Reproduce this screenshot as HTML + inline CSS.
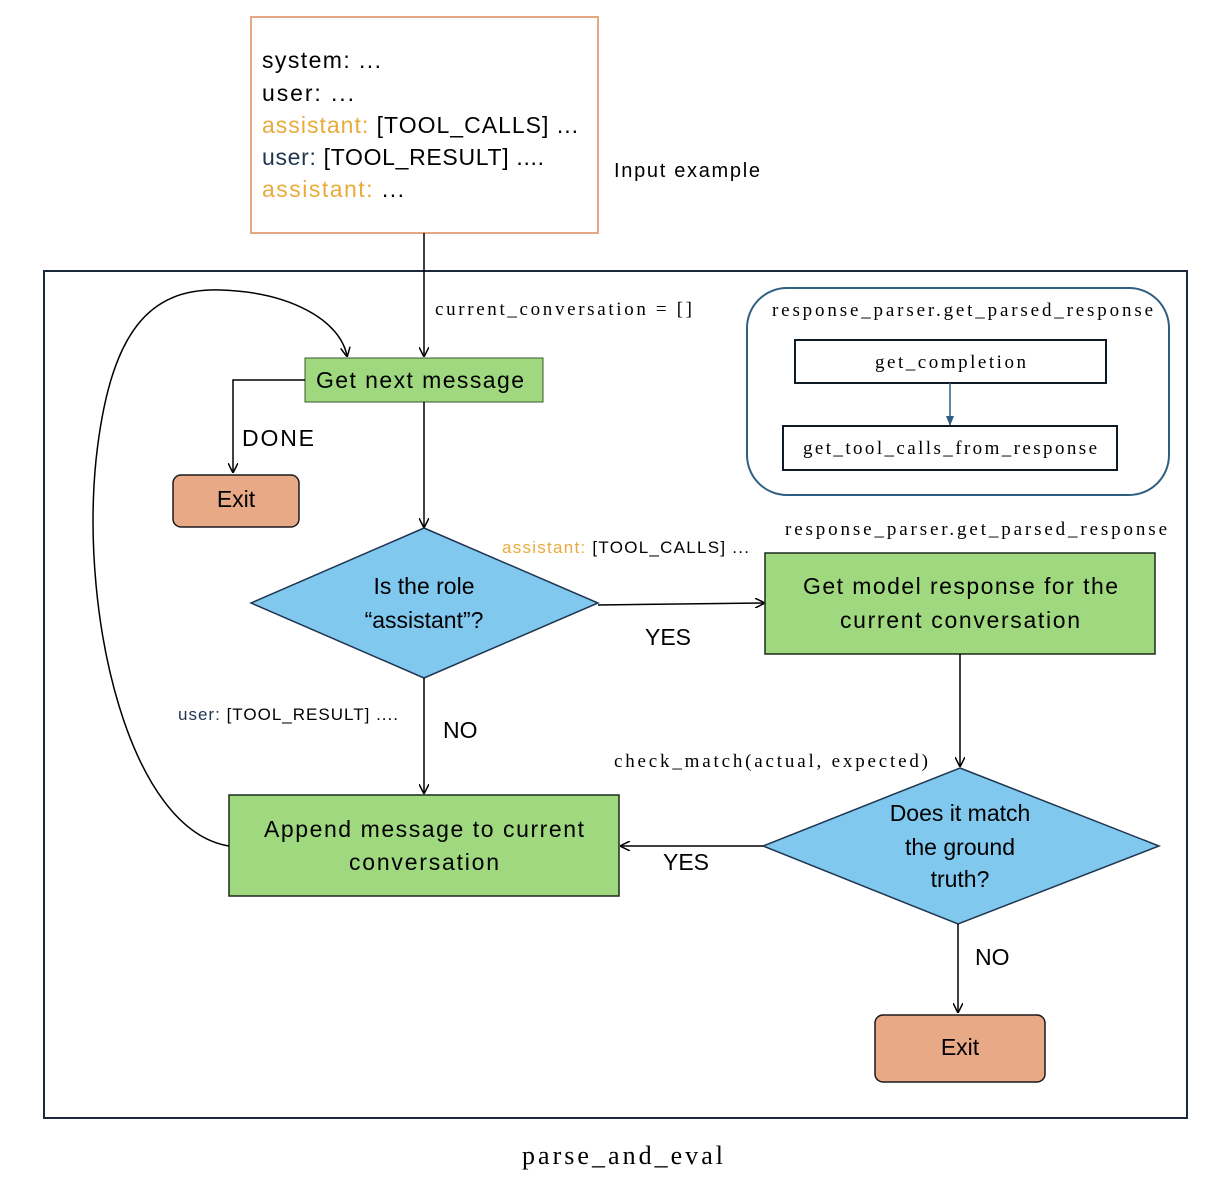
<!DOCTYPE html>
<html><head><meta charset="utf-8"><style>
html,body{margin:0;padding:0;background:#fff;}
svg{display:block;}
.s{font-family:"Liberation Sans",sans-serif;}
.r{font-family:"Liberation Serif",serif;}
</style></head><body>
<svg width="1220" height="1190" viewBox="0 0 1220 1190" xmlns="http://www.w3.org/2000/svg">
<defs>
<marker id="a" markerWidth="10" markerHeight="10" refX="9" refY="5" orient="auto" markerUnits="userSpaceOnUse"><path d="M0,0 L10,5 L0,10" fill="none" stroke="#000" stroke-width="1.5"/></marker>
<marker id="b" markerWidth="10" markerHeight="10" refX="9" refY="5" orient="auto" markerUnits="userSpaceOnUse"><path d="M0,1 L10,5 L0,9 z" fill="#2f5f80"/></marker>
</defs>
<rect x="251" y="17" width="347" height="216" fill="#fff" stroke="#e6a882" stroke-width="2"/>
<g class="s" font-size="23" fill="#000">
<text x="262" y="68" textLength="119">system: ...</text>
<text x="262" y="101" textLength="92">user:  ...</text>
<text x="262" y="133" textLength="316"><tspan fill="#e8ab3c">assistant:</tspan> [TOOL_CALLS] ...</text>
<text x="262" y="165" textLength="282"><tspan fill="#1f3550">user:</tspan> [TOOL_RESULT] ....</text>
<text x="262" y="197" textLength="142"><tspan fill="#e8ab3c">assistant:</tspan> ...</text>
</g>
<text class="s" x="614" y="177" font-size="20" textLength="146">Input example</text>
<rect x="44" y="271" width="1143" height="847" fill="none" stroke="#1a2a3a" stroke-width="2"/>
<line x1="424" y1="233" x2="424" y2="356" stroke="#000" stroke-width="1.5" marker-end="url(#a)"/>
<text class="r" x="435" y="315" font-size="19" textLength="257">current_conversation = []</text>
<rect x="305" y="358" width="238" height="44" fill="#a0d880" stroke="#3a5a2a" stroke-width="1"/>
<text class="s" x="316" y="388" font-size="23" textLength="208">Get next message</text>
<polyline points="305,380 233,380 233,472" fill="none" stroke="#000" stroke-width="1.5" marker-end="url(#a)"/>
<text class="s" x="242" y="446" font-size="23" textLength="72">DONE</text>
<rect x="173" y="475" width="126" height="52" rx="8" fill="#e8a987" stroke="#1a1a1a" stroke-width="1.5"/>
<text class="s" x="236" y="507" font-size="23" text-anchor="middle">Exit</text>
<line x1="424" y1="402" x2="424" y2="527" stroke="#000" stroke-width="1.5" marker-end="url(#a)"/>
<polygon points="424,528 598,603 424,678 251,603" fill="#80c8ee" stroke="#1f3550" stroke-width="1.5"/>
<text class="s" x="424" y="594" font-size="23" text-anchor="middle">Is the role</text>
<text class="s" x="424" y="628" font-size="23" text-anchor="middle">“assistant”?</text>
<text class="s" x="502" y="553" font-size="17" textLength="247"><tspan fill="#e8ab3c">assistant:</tspan> [TOOL_CALLS] ...</text>
<line x1="598" y1="605" x2="764" y2="603" stroke="#000" stroke-width="1.5" marker-end="url(#a)"/>
<text class="s" x="645" y="645" font-size="23">YES</text>
<rect x="765" y="553" width="390" height="101" fill="#a0d880" stroke="#1a2a1a" stroke-width="1.5"/>
<text class="s" x="803" y="594" font-size="23" textLength="315">Get model response for the</text>
<text class="s" x="840" y="628" font-size="23" textLength="240">current conversation</text>
<text class="r" x="785" y="535" font-size="19" textLength="382">response_parser.get_parsed_response</text>
<rect x="747" y="288" width="422" height="207" rx="40" fill="none" stroke="#2f5f80" stroke-width="2"/>
<text class="r" x="772" y="316" font-size="19" textLength="381">response_parser.get_parsed_response</text>
<rect x="795" y="340" width="311" height="43" fill="#fff" stroke="#0e1a26" stroke-width="2"/>
<text class="r" x="875" y="368" font-size="19" textLength="151">get_completion</text>
<line x1="950" y1="383" x2="950" y2="425" stroke="#2f5f80" stroke-width="1.5" marker-end="url(#b)"/>
<rect x="783" y="426" width="334" height="44" fill="#fff" stroke="#0e1a26" stroke-width="2"/>
<text class="r" x="803" y="454" font-size="19" textLength="294">get_tool_calls_from_response</text>
<line x1="960" y1="654" x2="960" y2="766" stroke="#000" stroke-width="1.5" marker-end="url(#a)"/>
<text class="r" x="614" y="767" font-size="19" textLength="314">check_match(actual, expected)</text>
<polygon points="960,768 1159,846 958,924 763,846" fill="#80c8ee" stroke="#1f3550" stroke-width="1.5"/>
<text class="s" x="960" y="821" font-size="23" text-anchor="middle">Does it match</text>
<text class="s" x="960" y="855" font-size="23" text-anchor="middle">the ground</text>
<text class="s" x="960" y="887" font-size="23" text-anchor="middle">truth?</text>
<line x1="763" y1="846" x2="621" y2="846" stroke="#000" stroke-width="1.5" marker-end="url(#a)"/>
<text class="s" x="663" y="870" font-size="23">YES</text>
<line x1="958" y1="924" x2="958" y2="1012" stroke="#000" stroke-width="1.5" marker-end="url(#a)"/>
<text class="s" x="975" y="965" font-size="23">NO</text>
<rect x="875" y="1015" width="170" height="67" rx="8" fill="#e8a987" stroke="#1a1a1a" stroke-width="1.5"/>
<text class="s" x="960" y="1055" font-size="23" text-anchor="middle">Exit</text>
<line x1="424" y1="678" x2="424" y2="793" stroke="#000" stroke-width="1.5" marker-end="url(#a)"/>
<text class="s" x="443" y="738" font-size="23">NO</text>
<text class="s" x="178" y="720" font-size="17" textLength="220"><tspan fill="#1f3550">user:</tspan> [TOOL_RESULT] ....</text>
<rect x="229" y="795" width="390" height="101" fill="#a0d880" stroke="#1a2a1a" stroke-width="1.5"/>
<text class="s" x="264" y="837" font-size="23" textLength="320">Append message to current</text>
<text class="s" x="349" y="870" font-size="23" textLength="150">conversation</text>
<path d="M229,846 C130,830 80,620 96,460 C110,330 150,288 220,290 C290,292 340,320 347,356" fill="none" stroke="#000" stroke-width="1.5" marker-end="url(#a)"/>
<text class="r" x="522" y="1164" font-size="26" textLength="201">parse_and_eval</text>
</svg>
</body></html>
